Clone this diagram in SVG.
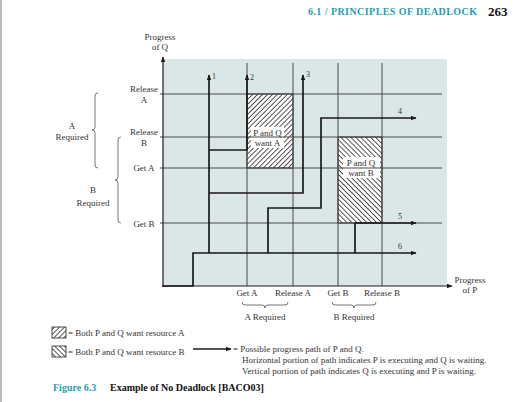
<svg xmlns="http://www.w3.org/2000/svg" width="532" height="402" viewBox="0 0 532 402">
<defs>
<style>
.t{font-family:"Liberation Serif","Times New Roman",serif;fill:#333;font-size:9px}
.c{text-anchor:middle}
.grid{stroke:#4a4a4a;stroke-width:1;fill:none}
.path{stroke:#1a1a1a;stroke-width:1.7;fill:none}
.brace{stroke:#666;stroke-width:0.9;fill:none}
</style>
<marker id="ah" viewBox="0 0 10 8" refX="9" refY="4" markerWidth="6" markerHeight="5" orient="auto" markerUnits="userSpaceOnUse">
<path d="M0,0 L10,4 L0,8 Z" fill="#1a1a1a"/>
</marker>
<pattern id="hA" width="3.5" height="3.5" patternUnits="userSpaceOnUse" patternTransform="rotate(45)">
<rect width="3.5" height="3.5" fill="#fff"/>
<line x1="0" y1="0" x2="0" y2="3.5" stroke="#222" stroke-width="1.5"/>
</pattern>
<pattern id="hB" width="3.5" height="3.5" patternUnits="userSpaceOnUse" patternTransform="rotate(-45)">
<rect width="3.5" height="3.5" fill="#fff"/>
<line x1="0" y1="0" x2="0" y2="3.5" stroke="#222" stroke-width="1.5"/>
</pattern>
</defs>
<rect width="532" height="402" fill="#fff"/>
<line x1="1" y1="0" x2="1" y2="402" stroke="#bbb" stroke-width="2"/>

<!-- header -->
<g id="header">
<text x="308" y="15" font-family="Liberation Serif,serif" font-size="10" font-weight="bold" fill="#2b9bb0" textLength="169">6.1 / PRINCIPLES OF DEADLOCK</text>
<text x="488" y="15.5" font-family="Liberation Serif,serif" font-size="13" font-weight="bold" fill="#111">263</text>
</g>

<!-- chart background -->
<rect x="163" y="59" width="284" height="227" fill="#dae7e6"/>

<!-- hatched regions -->
<g id="regionA">
<rect x="247" y="94" width="46" height="74" fill="url(#hA)" stroke="#222" stroke-width="1"/>
<rect x="251" y="127" width="33" height="21" fill="#fff"/>
<text class="t c" x="267.5" y="135.5">P and Q</text>
<text class="t c" x="267.5" y="145.5">want A</text>
</g>
<g id="regionB">
<rect x="338" y="137" width="44" height="86" fill="url(#hB)" stroke="#222" stroke-width="1"/>
<rect x="343" y="157" width="37" height="21" fill="#fff"/>
<text class="t c" x="361" y="165.5">P and Q</text>
<text class="t c" x="361" y="175.5">want B</text>
</g>

<!-- grid -->
<g id="grid" class="grid">
<line x1="247" y1="63" x2="247" y2="286"/>
<line x1="293" y1="63" x2="293" y2="286"/>
<line x1="338" y1="63" x2="338" y2="286"/>
<line x1="382" y1="63" x2="382" y2="286"/>
<line x1="160" y1="94" x2="442" y2="94"/>
<line x1="160" y1="137" x2="442" y2="137"/>
<line x1="160" y1="168" x2="442" y2="168"/>
<line x1="160" y1="223" x2="442" y2="223"/>
</g>

<!-- axes -->
<g id="axes" stroke="#1a1a1a" stroke-width="1.2" fill="none">
<line x1="163" y1="287" x2="163" y2="57" marker-end="url(#ah)"/>
<line x1="162" y1="286" x2="452" y2="286" marker-end="url(#ah)"/>
</g>

<!-- connectors: progress paths -->
<g id="connectors" class="path">
<path d="M163,286 H193 V253 H416" marker-end="url(#ah)"/>
<path d="M209,253 V75" marker-end="url(#ah)"/>
<path d="M209,150 H247 V75" marker-end="url(#ah)"/>
<path d="M209,193 H303 V75" marker-end="url(#ah)"/>
<path d="M268,253 V208 H321 V118 H416" marker-end="url(#ah)"/>
<path d="M355,253 V223 H416" marker-end="url(#ah)"/>
</g>

<!-- path labels -->
<g id="pathLabels" class="t" font-size="8">
<text x="212" y="79" font-size="8">1</text>
<text x="250" y="80" font-size="8">2</text>
<text x="306" y="77" font-size="8">3</text>
<text x="398" y="114" font-size="8">4</text>
<text x="398" y="219" font-size="8">5</text>
<text x="398" y="249" font-size="8">6</text>
</g>

<!-- axis titles -->
<g id="yTitle">
<text class="t c" x="160" y="40">Progress</text>
<text class="t c" x="160" y="50">of Q</text>
</g>
<g id="xTitle">
<text class="t c" x="470" y="283">Progress</text>
<text class="t c" x="470" y="293">of P</text>
</g>

<!-- y tick labels -->
<g id="yLabels">
<text class="t c" x="144" y="92">Release</text>
<text class="t c" x="144" y="103">A</text>
<text class="t c" x="144" y="135">Release</text>
<text class="t c" x="144" y="146">B</text>
<text class="t c" x="144" y="171">Get A</text>
<text class="t c" x="144" y="227">Get B</text>
</g>

<!-- x tick labels -->
<g id="xLabels">
<text class="t c" x="247" y="296">Get A</text>
<text class="t c" x="293" y="296">Release A</text>
<text class="t c" x="338" y="296">Get B</text>
<text class="t c" x="382" y="296">Release B</text>
</g>

<!-- braces -->
<g id="braceAreq">
<path class="brace" d="M98,93 Q95,93 95,96 V127 Q95,130 92,130 Q95,130 95,133 V165 Q95,168 98,168"/>
<text class="t c" x="72" y="129">A</text>
<text class="t c" x="72" y="140">Required</text>
</g>
<g id="braceBreq">
<path class="brace" d="M121,137 Q118,137 118,140 V177 Q118,180 115,180 Q118,180 118,183 V220 Q118,223 121,223"/>
<text class="t c" x="93" y="193">B</text>
<text class="t c" x="93" y="206">Required</text>
</g>
<g id="braceXA">
<path class="brace" d="M242,302 Q242,305 245,305 H262 Q265,305 265,308 Q265,305 268,305 H285 Q288,305 288,302"/>
<text class="t c" x="265" y="320">A Required</text>
</g>
<g id="braceXB">
<path class="brace" d="M332,302 Q332,305 335,305 H351 Q354,305 354,308 Q354,305 357,305 H373 Q376,305 376,302"/>
<text class="t c" x="354" y="320">B Required</text>
</g>

<!-- legend -->
<g id="legendA">
<rect x="52" y="327" width="14" height="11" fill="url(#hA)" stroke="#222" stroke-width="0.8"/>
<text class="t" x="68" y="335.5" font-size="8.5">= Both P and Q want resource A</text>
</g>
<g id="legendB">
<rect x="52" y="346" width="14" height="11" fill="url(#hB)" stroke="#222" stroke-width="0.8"/>
<text class="t" x="68" y="354.5" font-size="8.5">= Both P and Q want resource B</text>
</g>
<g id="legendPath">
<line x1="193" y1="349" x2="231" y2="349" stroke="#1a1a1a" stroke-width="1.4" marker-end="url(#ah)"/>
<text class="t" x="233" y="352" font-size="8.5">= Possible progress path of P and Q.</text>
<text class="t" x="242" y="363" font-size="8.5">Horizontal portion of path indicates P is executing and Q is waiting.</text>
<text class="t" x="242" y="374" font-size="8.5">Vertical portion of path indicates Q is executing and P is waiting.</text>
</g>

<!-- caption -->
<g id="caption">
<text x="53" y="391" font-family="Liberation Serif,serif" font-size="10" font-weight="bold" fill="#2b9bb0">Figure 6.3</text>
<text x="110" y="391" font-family="Liberation Serif,serif" font-size="10" font-weight="bold" fill="#111">Example of No Deadlock [BACO03]</text>
</g>
</svg>
